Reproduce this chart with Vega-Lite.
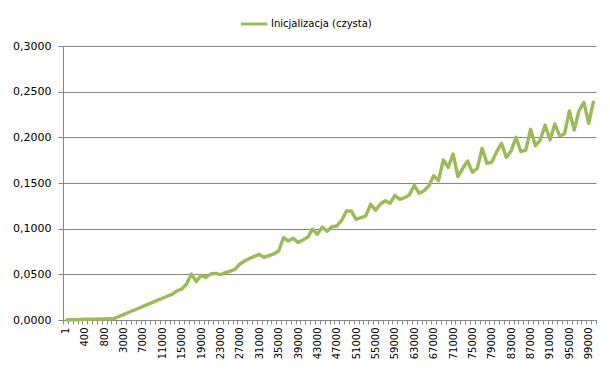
{
  "$schema": "https://vega.github.io/schema/vega-lite/v6.json",
  "width": 533,
  "height": 274,
  "autosize": "none",
  "padding": {"left": 63, "top": 46, "right": 14, "bottom": 61},
  "background": "white",
  "config": {
    "view": {"stroke": null},
    "font": "DejaVu Sans",
    "axis": {"labelFont": "DejaVu Sans", "labelFontSize": 10, "labelColor": "#000000", "domainColor": "#868686", "tickColor": "#868686", "gridColor": "#868686", "domainWidth": 1, "tickWidth": 1, "gridWidth": 1}
  },
  "data": {
    "values": [
      {"n": "1", "v": 0.0001}, {"n": "100", "v": 0.0002}, {"n": "200", "v": 0.0003}, {"n": "300", "v": 0.0006},
      {"n": "400", "v": 0.0009}, {"n": "500", "v": 0.001}, {"n": "600", "v": 0.001}, {"n": "700", "v": 0.0011},
      {"n": "800", "v": 0.0012}, {"n": "900", "v": 0.0013}, {"n": "1000", "v": 0.0015},
      {"n": "2000", "v": 0.0037}, {"n": "3000", "v": 0.0059}, {"n": "4000", "v": 0.0082}, {"n": "5000", "v": 0.0104},
      {"n": "6000", "v": 0.0126}, {"n": "7000", "v": 0.0149}, {"n": "8000", "v": 0.0171}, {"n": "9000", "v": 0.0193},
      {"n": "10000", "v": 0.0216}, {"n": "11000", "v": 0.0238}, {"n": "12000", "v": 0.026}, {"n": "13000", "v": 0.028},
      {"n": "14000", "v": 0.0318}, {"n": "15000", "v": 0.034}, {"n": "16000", "v": 0.0394}, {"n": "17000", "v": 0.0504},
      {"n": "18000", "v": 0.042}, {"n": "19000", "v": 0.049}, {"n": "20000", "v": 0.0467}, {"n": "21000", "v": 0.0504},
      {"n": "22000", "v": 0.0511}, {"n": "23000", "v": 0.0496}, {"n": "24000", "v": 0.0518}, {"n": "25000", "v": 0.0536},
      {"n": "26000", "v": 0.0555}, {"n": "27000", "v": 0.0613}, {"n": "28000", "v": 0.0646}, {"n": "29000", "v": 0.0675},
      {"n": "30000", "v": 0.0697}, {"n": "31000", "v": 0.0719}, {"n": "32000", "v": 0.0686}, {"n": "33000", "v": 0.0704},
      {"n": "34000", "v": 0.0723}, {"n": "35000", "v": 0.0755}, {"n": "36000", "v": 0.0901}, {"n": "37000", "v": 0.0865},
      {"n": "38000", "v": 0.0894}, {"n": "39000", "v": 0.085}, {"n": "40000", "v": 0.0876}, {"n": "41000", "v": 0.0905},
      {"n": "42000", "v": 0.0996}, {"n": "43000", "v": 0.0938}, {"n": "44000", "v": 0.1018}, {"n": "45000", "v": 0.0971},
      {"n": "46000", "v": 0.1022}, {"n": "47000", "v": 0.1029}, {"n": "48000", "v": 0.1091}, {"n": "49000", "v": 0.1193},
      {"n": "50000", "v": 0.1193}, {"n": "51000", "v": 0.1102}, {"n": "52000", "v": 0.112}, {"n": "53000", "v": 0.1142},
      {"n": "54000", "v": 0.1267}, {"n": "55000", "v": 0.1201}, {"n": "56000", "v": 0.127}, {"n": "57000", "v": 0.1306},
      {"n": "58000", "v": 0.1278}, {"n": "59000", "v": 0.1365}, {"n": "60000", "v": 0.1321}, {"n": "61000", "v": 0.1339},
      {"n": "62000", "v": 0.137}, {"n": "63000", "v": 0.1475}, {"n": "64000", "v": 0.1387}, {"n": "65000", "v": 0.1416},
      {"n": "66000", "v": 0.1467}, {"n": "67000", "v": 0.158}, {"n": "68000", "v": 0.1526}, {"n": "69000", "v": 0.1752},
      {"n": "70000", "v": 0.1672}, {"n": "71000", "v": 0.1818}, {"n": "72000", "v": 0.1569}, {"n": "73000", "v": 0.1661},
      {"n": "74000", "v": 0.1741}, {"n": "75000", "v": 0.1617}, {"n": "76000", "v": 0.1661}, {"n": "77000", "v": 0.188},
      {"n": "78000", "v": 0.1715}, {"n": "79000", "v": 0.173}, {"n": "80000", "v": 0.1843}, {"n": "81000", "v": 0.1934},
      {"n": "82000", "v": 0.1781}, {"n": "83000", "v": 0.1854}, {"n": "84000", "v": 0.2}, {"n": "85000", "v": 0.1843},
      {"n": "86000", "v": 0.1861}, {"n": "87000", "v": 0.2088}, {"n": "88000", "v": 0.1909}, {"n": "89000", "v": 0.1971},
      {"n": "90000", "v": 0.2135}, {"n": "91000", "v": 0.1971}, {"n": "92000", "v": 0.2146}, {"n": "93000", "v": 0.2015},
      {"n": "94000", "v": 0.2037}, {"n": "95000", "v": 0.2288}, {"n": "96000", "v": 0.208}, {"n": "97000", "v": 0.2292},
      {"n": "98000", "v": 0.2383}, {"n": "99000", "v": 0.2153}, {"n": "100000", "v": 0.2398}
    ]
  },
  "mark": {"type": "line", "strokeWidth": 3.4, "strokeJoin": "round", "interpolate": "linear"},
  "encoding": {
    "x": {
      "field": "n",
      "type": "ordinal",
      "sort": null,
      "scale": {"paddingInner": 0, "paddingOuter": 0},
      "axis": {
        "title": null,
        "grid": false,
        "labelAngle": 270,
        "labelPadding": 3,
        "tickSize": 4,
        "tickBand": "extent",
        "labelOverlap": false,
        "labelExpr": "(datum.value == '1' || datum.value == '400' || datum.value == '800' || (toNumber(datum.value) >= 3000 && (toNumber(datum.value) - 3000) % 4000 == 0)) ? datum.value : ''"
      }
    },
    "y": {
      "field": "v",
      "type": "quantitative",
      "scale": {"domain": [0, 0.3], "nice": false},
      "axis": {
        "title": null,
        "values": [0, 0.05, 0.1, 0.15, 0.2, 0.25, 0.3],
        "tickSize": 5,
        "labelPadding": 7,
        "labelFontSize": 11,
        "labelExpr": "replace(format(datum.value, '.4f'), '.', ',')"
      }
    },
    "color": {
      "datum": "Inicjalizacja (czysta)",
      "type": "nominal",
      "scale": {"range": ["#9BBB59"]},
      "legend": {
        "title": null,
        "orient": "none",
        "legendX": 176,
        "legendY": -37,
        "symbolType": "stroke",
        "symbolSize": 700,
        "symbolStrokeWidth": 3,
        "labelFont": "DejaVu Sans",
        "labelFontSize": 10,
        "labelColor": "#000000",
        "labelOffset": 2
      }
    }
  }
}
